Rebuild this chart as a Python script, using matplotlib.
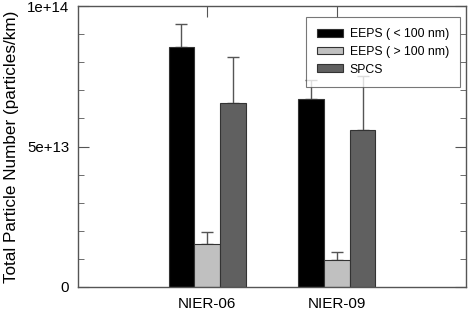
import matplotlib
matplotlib.use("Agg")
import matplotlib.pyplot as plt
import numpy as np
from matplotlib.ticker import MultipleLocator, FixedLocator

plt.rcParams["font.family"] = ["Liberation Sans", "DejaVu Sans"]

# Datos (particles/km)
sitios = ["NIER-06", "NIER-09"]
series = ["EEPS ( < 100 nm)", "EEPS ( > 100 nm)", "SPCS"]
valores = {
    "EEPS ( < 100 nm)": [8.54e13, 6.70e13],
    "EEPS ( > 100 nm)": [1.54e13, 0.96e13],
    "SPCS": [6.55e13, 5.60e13],
}
errores = {
    "EEPS ( < 100 nm)": [0.81e13, 0.65e13],
    "EEPS ( > 100 nm)": [0.40e13, 0.28e13],
    "SPCS": [1.63e13, 1.90e13],
}
colores = ["#000000", "#c0c0c0", "#606060"]

fig = plt.figure(figsize=(4.68, 3.10), dpi=100)
ax = fig.add_axes([78 / 468, 23 / 310, 388 / 468, 281 / 310])

x = np.arange(1, len(sitios) + 1)
ancho = 0.2
for i, (s, c) in enumerate(zip(series, colores)):
    pos = x + (i - 1) * ancho
    ax.bar(pos, valores[s], width=ancho, color=c, edgecolor="#333333",
           linewidth=0.8, label=s, zorder=2)
    ax.errorbar(pos, valores[s], yerr=[np.zeros(len(sitios)), errores[s]],
                fmt="none", ecolor="#555555", elinewidth=1.0, capsize=4,
                capthick=1.0, zorder=1)

ax.set_xlim(0, 3)
ax.set_ylim(0, 1e14)
ax.set_xticks(x)
ax.set_xticklabels(sitios, fontsize=11)
ax.yaxis.set_major_locator(FixedLocator([0, 5e13, 1e14]))
ax.set_yticklabels(["0", "5e+13", "1e+14"], fontsize=10.8)
ax.yaxis.set_minor_locator(MultipleLocator(1e13))
ax.tick_params(axis="both", which="major", direction="in", length=8,
               color="#555555", top=True, right=True)
ax.tick_params(axis="x", which="major", pad=7)
ax.tick_params(axis="y", which="major", pad=6.5)
ax.tick_params(axis="y", which="minor", direction="in", length=4.5,
               color="#555555", right=True)
for sp in ax.spines.values():
    sp.set_color("#555555")
    sp.set_linewidth(1.0)

ax.set_ylabel("Total Particle Number (particles/km)", fontsize=12.3)
ax.yaxis.set_label_coords(-0.153, 0.5)

leg = ax.legend(loc="upper right", bbox_to_anchor=(0.984, 0.961), fontsize=8.8,
                frameon=True, fancybox=False, edgecolor="#555555",
                handlelength=2.2, handleheight=0.6, labelspacing=0.475,
                borderpad=0.9, handletextpad=0.5, borderaxespad=0)
leg.get_frame().set_linewidth(0.8)

fig.savefig("out.png", dpi=100)
